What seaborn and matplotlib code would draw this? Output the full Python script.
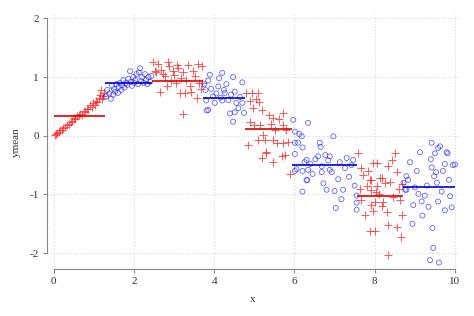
import pandas as pd
import matplotlib
matplotlib.use('Agg')
import matplotlib.pyplot as plt
import seaborn as sns

# points, one pair of lists per x bin
x1 = [0.02, 0.05, 0.08, 0.12, 0.15, 0.2, 0.24, 0.28, 0.33, 0.37, 0.42, 0.45, 0.5, 0.53, 0.58, 0.62, 0.66,
      0.7, 0.74, 0.78, 0.82, 0.86, 0.9, 0.94, 0.98, 1.02, 1.05, 1.08, 1.12, 1.15, 1.18, 1.2, 1.23, 1.25]
y1 = [0.01, 0.03, 0.05, 0.06, 0.09, 0.1, 0.14, 0.15, 0.19, 0.2, 0.24, 0.25, 0.3, 0.29, 0.33, 0.35, 0.37,
      0.36, 0.42, 0.4, 0.46, 0.45, 0.52, 0.49, 0.55, 0.53, 0.6, 0.57, 0.64, 0.7, 0.78, 0.62, 0.67, 0.72]

x2 = [1.3, 1.33, 1.38, 1.42, 1.45, 1.48, 1.5, 1.53, 1.56, 1.6, 1.62, 1.65, 1.68, 1.7, 1.73, 1.76, 1.8, 1.83, 1.86,
      1.9, 1.92, 1.95, 1.98, 2.0, 2.03, 2.06, 2.1, 2.12, 2.15, 2.18, 2.2, 2.24, 2.27, 2.3, 2.33, 2.36, 2.4, 2.43]
y2 = [0.67, 0.78, 0.72, 0.63, 0.85, 0.7, 0.8, 0.75, 0.88, 0.73, 0.83, 0.9, 0.78, 0.86, 0.95, 0.82, 0.9, 0.87, 0.97,
      1.1, 0.92, 0.85, 1.0, 0.9, 0.95, 1.05, 0.88, 1.08, 1.15, 0.93, 1.0, 0.9, 1.05, 0.95, 0.88, 1.0, 0.92, 1.02]

x3 = [2.48, 2.52, 2.55, 2.6, 2.64, 2.68, 2.72, 2.77, 2.81, 2.84, 2.88, 2.93, 2.97, 3.0, 3.04, 3.06, 3.1,
      3.14, 3.18, 3.22, 3.23, 3.27, 3.3, 3.35, 3.4, 3.43, 3.47, 3.52, 3.56, 3.6, 3.63, 3.66, 3.69, 3.7]
y3 = [1.25, 1.1, 1.08, 1.23, 0.75, 1.12, 1.05, 1.01, 0.84, 1.25, 1.18, 0.93, 1.1, 1.03, 0.9, 1.21, 1.15,
      0.73, 0.98, 1.08, 0.37, 0.73, 0.95, 1.2, 0.85, 0.75, 1.1, 1.01, 0.64, 1.23, 0.9, 0.8, 1.18, 0.9]

x4 = [3.75, 3.78, 3.8, 3.81, 3.85, 3.85, 3.89, 3.92, 3.97, 4.01, 4.05, 4.1, 4.12, 4.16, 4.2, 4.2,
      4.24, 4.26, 4.3, 4.35, 4.39, 4.42, 4.47, 4.47, 4.51, 4.51, 4.55, 4.6, 4.64, 4.7, 4.7, 4.74]
y4 = [0.88, 0.78, 0.6, 0.43, 0.94, 0.44, 1.04, 0.8, 0.67, 0.56, 0.72, 0.84, 0.98, 0.65, 1.07, 0.6,
      0.78, 0.73, 0.88, 0.61, 0.38, 0.7, 1.0, 0.24, 0.75, 0.4, 0.56, 0.47, 0.66, 0.91, 0.56, 0.39]

x5 = [4.8, 4.85, 4.89, 4.89, 4.93, 4.97, 4.99, 5.05, 5.09, 5.09, 5.12, 5.14, 5.18, 5.18, 5.22, 5.27, 5.3,
      5.3, 5.36, 5.42, 5.47, 5.47, 5.47, 5.52, 5.57, 5.62, 5.68, 5.72, 5.72, 5.72, 5.76, 5.8, 5.84, 5.88]
y5 = [0.73, -0.15, 0.6, 0.24, 0.73, 0.47, 0.18, 0.62, 0.73, -0.07, 0.58, 0.18, 0.44, -0.38, 0.02, -0.08, -0.27,
      -0.3, 0.35, 0.2, 0.3, -0.08, -0.45, 0.09, -0.12, 0.28, -0.34, 0.39, 0.18, -0.12, -0.32, 0.1, -0.1, -0.65]

x6 = [5.97, 6.01, 6.01, 6.01, 6.01, 6.05, 6.09, 6.12, 6.18, 6.2, 6.2, 6.2, 6.25, 6.3, 6.3, 6.32, 6.34,
      6.34, 6.4, 6.45, 6.52, 6.59, 6.63, 6.65, 6.68, 6.68, 6.72, 6.77, 6.8, 6.84, 6.88, 6.88, 6.93,
      6.97, 7.0, 7.03, 7.09, 7.13, 7.17, 7.21, 7.26, 7.3, 7.36, 7.42, 7.46, 7.5, 7.55, 7.55, 7.55]
y6 = [0.27, 0.07, -0.12, -0.31, -0.6, -0.57, -0.12, 0.03, -0.01, -0.2, -0.95, -0.6, -0.45, -0.41, -0.76, -0.75, 0.22,
      -0.58, -0.48, -0.65, -0.4, -0.35, -0.12, -0.19, -0.52, -0.62, -0.81, -0.33, -0.92, -0.42, -0.35, -0.58, -0.62,
      -0.01, -0.94, -1.23, -0.74, -0.45, -1.08, -0.92, -0.55, -0.38, -0.7, -0.5, -0.41, -0.85, -1.02, -1.14, -1.26]

x7 = [7.59, 7.63, 7.67, 7.67, 7.71, 7.75, 7.8, 7.84, 7.88, 7.88, 7.92, 7.92, 7.92, 7.96, 7.96, 8.0, 8.0,
      8.04, 8.05, 8.05, 8.1, 8.14, 8.17, 8.17, 8.21, 8.25, 8.3, 8.34, 8.34, 8.34, 8.38, 8.42, 8.46, 8.5,
      8.55, 8.55, 8.6, 8.63, 8.65, 8.67, 8.69]
y7 = [-0.3, -0.9, -0.55, -1.09, -0.66, -1.35, -0.85, -0.6, -0.75, -1.63, -0.92, -1.18, -0.75, -0.47, -1.29, -1.12, -1.63,
      -0.95, -0.86, -0.47, -1.0, -0.72, -1.2, -0.72, -1.12, -0.8, -1.3, -0.52, -1.52, -2.03, -0.78, -0.42, -1.05, -0.3,
      -0.61, -1.55, -0.9, -1.1, -1.73, -0.83, -1.35]

x8 = [8.72, 8.76, 8.79, 8.79, 8.83, 8.88, 8.94, 8.96, 9.0, 9.05, 9.09, 9.13, 9.17, 9.19, 9.25, 9.3, 9.34,
      9.38, 9.4, 9.42, 9.42, 9.44, 9.46, 9.48, 9.5, 9.53, 9.55, 9.58, 9.58, 9.6, 9.63, 9.67, 9.7, 9.75,
      9.75, 9.79, 9.82, 9.85, 9.88, 9.92, 9.95, 10.0]
y8 = [-0.8, -0.92, -0.69, -0.92, -0.75, -0.45, -1.5, -1.18, -0.88, -0.6, -0.99, -0.28, -1.12, -1.36, -1.02, -0.85, -1.21,
      -2.12, -0.4, -0.12, -0.54, -1.57, -1.91, -0.69, -0.3, -0.62, -0.8, -0.21, -1.12, -2.16, -0.18, -0.95, -0.6, -0.48,
      -1.27, -0.28, -0.3, -0.75, -1.03, -1.22, -0.5, -0.49]

# bin edges and bin means (horizontal segments)
bin_lo = [0.0, 1.27, 2.45, 3.72, 4.76, 5.93, 7.57, 8.7]
bin_hi = [1.27, 2.45, 3.72, 4.76, 5.93, 7.57, 8.7, 10.0]
bin_mean = [0.34, 0.9, 0.94, 0.65, 0.11, -0.49, -1.02, -0.88]

xs = [x1, x2, x3, x4, x5, x6, x7, x8]
ys = [y1, y2, y3, y4, y5, y6, y7, y8]

RED = '#ff2020'
BLUE = '#2020ff'

sns.set_style('white')
plt.rcParams['font.family'] = ['Liberation Serif', 'DejaVu Serif']
plt.rcParams['axes.unicode_minus'] = False

fig = plt.figure(figsize=(4.74, 3.16), dpi=100)
ax = fig.add_axes([0.0992, 0.1487, 0.869, 0.8025])

for i in range(8):
    d = pd.DataFrame({'x': xs[i], 'y': ys[i]})
    if i % 2 == 0:
        sns.scatterplot(data=d, x='x', y='y', ax=ax, marker='+', color=RED, s=28,
                        linewidth=0.65, alpha=0.8, zorder=3)
        lc = '#e00000'
    else:
        sns.scatterplot(data=d, x='x', y='y', ax=ax, marker='o', s=13,
                        facecolor='none', edgecolor=BLUE, linewidth=0.6, alpha=0.7, zorder=3)
        lc = '#0000d0'
    ax.hlines(bin_mean[i], bin_lo[i], bin_hi[i], color=lc, linewidth=1.2, zorder=4)

ax.set_xlim(-0.17, 10.1)
ax.set_ylim(-2.27, 2.05)
ax.set_xticks([0, 2, 4, 6, 8, 10])
ax.set_yticks([-2, -1, 0, 1, 2])
ax.grid(True, linestyle=':', color='#d8d8d8', linewidth=0.8)
ax.set_axisbelow(True)

for s in ['top', 'right']:
    ax.spines[s].set_visible(False)
ax.spines['left'].set_bounds(-2, 2)
ax.spines['bottom'].set_bounds(0, 10)
for s in ['left', 'bottom']:
    ax.spines[s].set_color('#888888')
    ax.spines[s].set_linewidth(0.8)

ax.tick_params(axis='both', direction='out', length=3, width=0.8, color='#888888',
               labelsize=8, labelcolor='#333333', left=True, bottom=True, pad=3)
ax.set_xlabel('x', fontsize=8, color='#333333', labelpad=6)
ax.set_ylabel('ymean', fontsize=8, color='#333333', labelpad=6)

fig.savefig('out.png', dpi=100)
